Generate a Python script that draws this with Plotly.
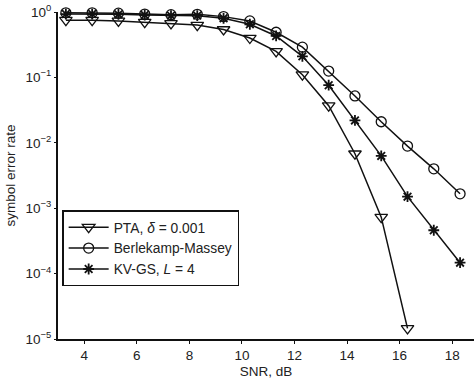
import plotly.graph_objects as go

snr = [3.3, 4.3, 5.3, 6.3, 7.3, 8.3, 9.3, 10.3, 11.3, 12.3, 13.3, 14.3, 15.3, 16.3, 17.3, 18.3]
pta = [0.75, 0.75, 0.73, 0.70, 0.67, 0.63, 0.54, 0.40, 0.25, 0.11, 0.037, 0.0068, 0.00073, 0.0000145]
bm = [0.97, 0.97, 0.96, 0.93, 0.91, 0.92, 0.85, 0.73, 0.49, 0.29, 0.125, 0.052, 0.021, 0.0089, 0.004, 0.00166]
kv = [0.93, 0.93, 0.92, 0.90, 0.88, 0.88, 0.80, 0.65, 0.43, 0.21, 0.076, 0.022, 0.0063, 0.0015, 0.00046, 0.000147]

names = ["PTA, <i>δ</i> = 0.001", "Berlekamp-Massey", "KV-GS, <i>L</i> = 4"]
ytickvals = [1e-5, 1e-4, 1e-3, 1e-2, 1e-1, 1]
yticktext = ["10<sup>−5</sup>", "10<sup>−4</sup>", "10<sup>−3</sup>", "10<sup>−2</sup>", "10<sup>−1</sup>", "10<sup>0</sup>"]
xtickvals = [4, 6, 8, 10, 12, 14, 16, 18]

FONT = "Liberation Sans, Arial, sans-serif"
fig = go.Figure()
fig.add_trace(go.Scatter(x=snr[:len(pta)], y=pta, name=names[0], mode="lines+markers",
                         line=dict(color="#111", width=1.5),
                         marker=dict(symbol="triangle-down-open", size=11, color="#111", line=dict(width=1.3)),
                         cliponaxis=False))
fig.add_trace(go.Scatter(x=snr[:len(bm)], y=bm, name=names[1], mode="lines+markers",
                         line=dict(color="#111", width=1.5),
                         marker=dict(symbol="circle-open", size=10, color="#111", line=dict(width=1.3)),
                         cliponaxis=False))
fig.add_trace(go.Scatter(x=snr[:len(kv)], y=kv, name=names[2], mode="lines+markers",
                         line=dict(color="#111", width=1.5),
                         marker=dict(symbol="asterisk-open", size=9, color="#111", line=dict(width=1.8, color="#111")),
                         cliponaxis=False))

fig.update_layout(
    width=474, height=379, autosize=False,
    margin=dict(l=58, r=0, t=12, b=40),
    paper_bgcolor="white", plot_bgcolor="white",
    font=dict(family=FONT, size=13, color="#222"),
    showlegend=True,
    legend=dict(x=0.01, y=0.394, xanchor="left", yanchor="top",
                bordercolor="#111", borderwidth=1.5, bgcolor="white",
                font=dict(family=FONT, size=13.8, color="#222"),
                tracegroupgap=0, itemwidth=40),
    xaxis=dict(range=[3.0, 18.83], tickvals=xtickvals, ticks="outside", ticklen=3,
               tickcolor="#111", showline=True, linecolor="#111", linewidth=2,
               showgrid=False, zeroline=False, automargin=False,
               title=dict(text="SNR, dB", font=dict(family=FONT, size=13.5), standoff=4),
               tickfont=dict(family=FONT, size=13.5)),
    yaxis=dict(type="log", range=[-5, 0], tickvals=ytickvals, ticktext=yticktext,
               ticks="outside", ticklen=2, tickcolor="#111",
               showline=True, linecolor="#111", linewidth=2,
               showgrid=False, zeroline=False, automargin=False,
               ticklabeloverflow="allow",
               title=dict(text="symbol error rate", font=dict(family=FONT, size=13.5), standoff=7),
               tickfont=dict(family=FONT, size=13.5)),
)
fig.write_html("out.html", config={"responsive": False, "displayModeBar": False},
               post_script="document.body.style.margin='0';")
